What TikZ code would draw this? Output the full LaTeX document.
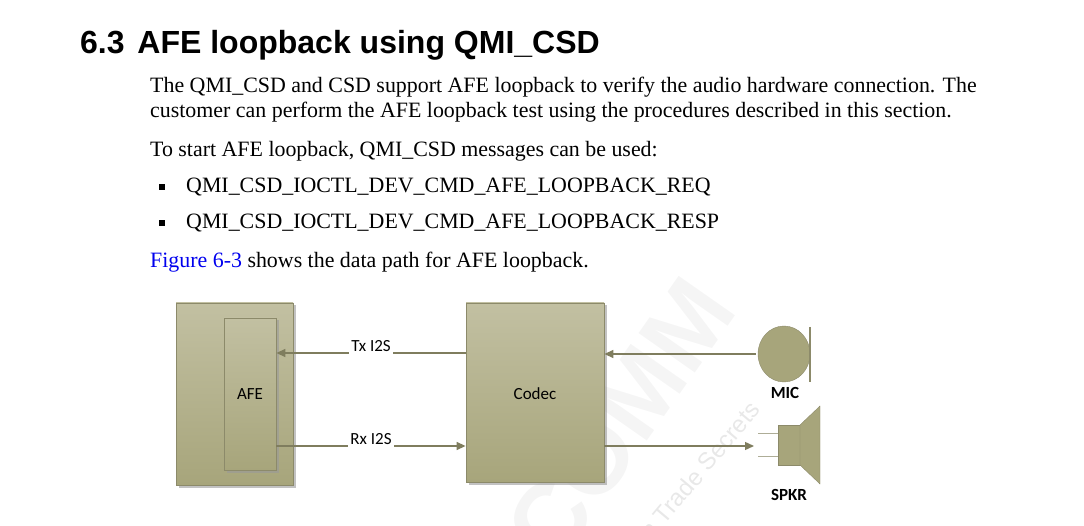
\documentclass[tikz,border=0pt]{standalone}
\usepackage{fontspec}
\setmainfont{Liberation Serif}
\newfontfamily\hfont{Liberation Sans}
\newfontfamily\cfont{Carlito}
\usetikzlibrary{arrows.meta,shapes.geometric,shadows}
\definecolor{boxtop}{HTML}{C2C0A2}
\definecolor{boxbot}{HTML}{A7A57B}
\definecolor{boxline}{HTML}{8C8A6A}
\definecolor{arr}{HTML}{7F7D5E}
\definecolor{lnk}{HTML}{0000EE}
\tikzset{
  blk/.style={draw=boxline, line width=0.8pt, top color=boxtop, bottom color=boxbot, inner sep=0pt,
     drop shadow={shadow xshift=2.5pt, shadow yshift=-2.5pt, fill=black!40, opacity=0.6}},
  con/.style={draw=arr, line width=1.4pt, -{Triangle[length=9pt,width=8pt]}},
  dfont/.style={font=\cfont\fontsize{17}{19}\selectfont},
  lbl/.style={dfont, inner sep=2pt, fill=white, yshift=7pt},
  body/.style={font=\fontsize{21.9}{25}\selectfont, anchor=base west, inner sep=0pt},
}
\begin{document}
\begin{tikzpicture}[x=1pt,y=-1pt]
\useasboundingbox (0,0) rectangle (1084,526);
% watermark
\node[rotate=55, text=black!4, font=\hfont\bfseries\fontsize{100}{100}\selectfont] (wm) at (620,420) {COMM};
\node[rotate=50, text=black!9, font=\hfont\fontsize{24}{24}\selectfont] (wm2) at (700,470) {n Trade Secrets};
% text
\node[font=\hfont\bfseries\fontsize{32}{36}\selectfont, anchor=base west, inner sep=0pt] (h) at (80,54) {6.3\hspace{0.4em}AFE loopback using QMI\_CSD};
\node[body] (p1) at (150,93) {The QMI\_CSD and CSD support AFE loopback to verify the audio hardware connection. The};
\node[body] (p2) at (150,118) {customer can perform the AFE loopback test using the procedures described in this section.};
\node[body] (p3) at (150,157) {To start AFE loopback, QMI\_CSD messages can be used:};
\node[fill=black, minimum size=6pt, inner sep=0pt] (b1) at (162,187) {};
\node[body] (l1) at (186,193) {QMI\_CSD\_IOCTL\_DEV\_CMD\_AFE\_LOOPBACK\_REQ};
\node[fill=black, minimum size=6pt, inner sep=0pt] (b2) at (162,223) {};
\node[body] (l2) at (186,229) {QMI\_CSD\_IOCTL\_DEV\_CMD\_AFE\_LOOPBACK\_RESP};
\node[body] (p4) at (150,268) {\textcolor{lnk}{Figure 6-3} shows the data path for AFE loopback.};
% blocks
\node[blk, minimum width=117pt, minimum height=182pt] (outer) at (234.5,394) {};
\node[blk, minimum width=52pt, minimum height=152pt] (afe) at (250,394) {};
\node[dfont] (afet) at (250,394) {AFE};
\node[blk, minimum width=138pt, minimum height=179pt] (codec) at (535,392.5) {};
\node[dfont] (codect) at (535,394) {Codec};
% mic
\node[draw=boxline, fill=boxbot, ellipse, minimum width=52pt, minimum height=56pt, inner sep=0pt] (mic) at (784,354) {};
\draw[boxline, line width=1.2pt] (810,327) -- (810,382);
\node[font=\cfont\bfseries\fontsize{17}{19}\selectfont] (mict) at (785,393) {MIC};
% speaker
\draw[draw=boxline, fill=boxbot] (778,425) rectangle (800,465);
\draw[draw=boxline, fill=boxbot] (800,425) -- (820,406) -- (820,484) -- (800,465) -- cycle;
\coordinate (spk) at (754,446);
\draw[boxline!70, line width=0.6pt] (758,433) -- (778,433) (758,456) -- (778,456);
\node[font=\cfont\bfseries\fontsize{17}{19}\selectfont] (spkt) at (789,495) {SPKR};
% connectors
\coordinate (micL) at (756,354);
\draw[con] (micL) -- (codec.east |- micL);
\draw[con] (codec.west |- 0,353) -- node[lbl]{Tx I2S} (afe.east |- 0,353);
\draw[con] (afe.east |- 0,446) -- node[lbl]{Rx I2S} (codec.west |- 0,446);
\draw[con] (codec.east |- 0,446) -- (spk);
\end{tikzpicture}
\end{document}
